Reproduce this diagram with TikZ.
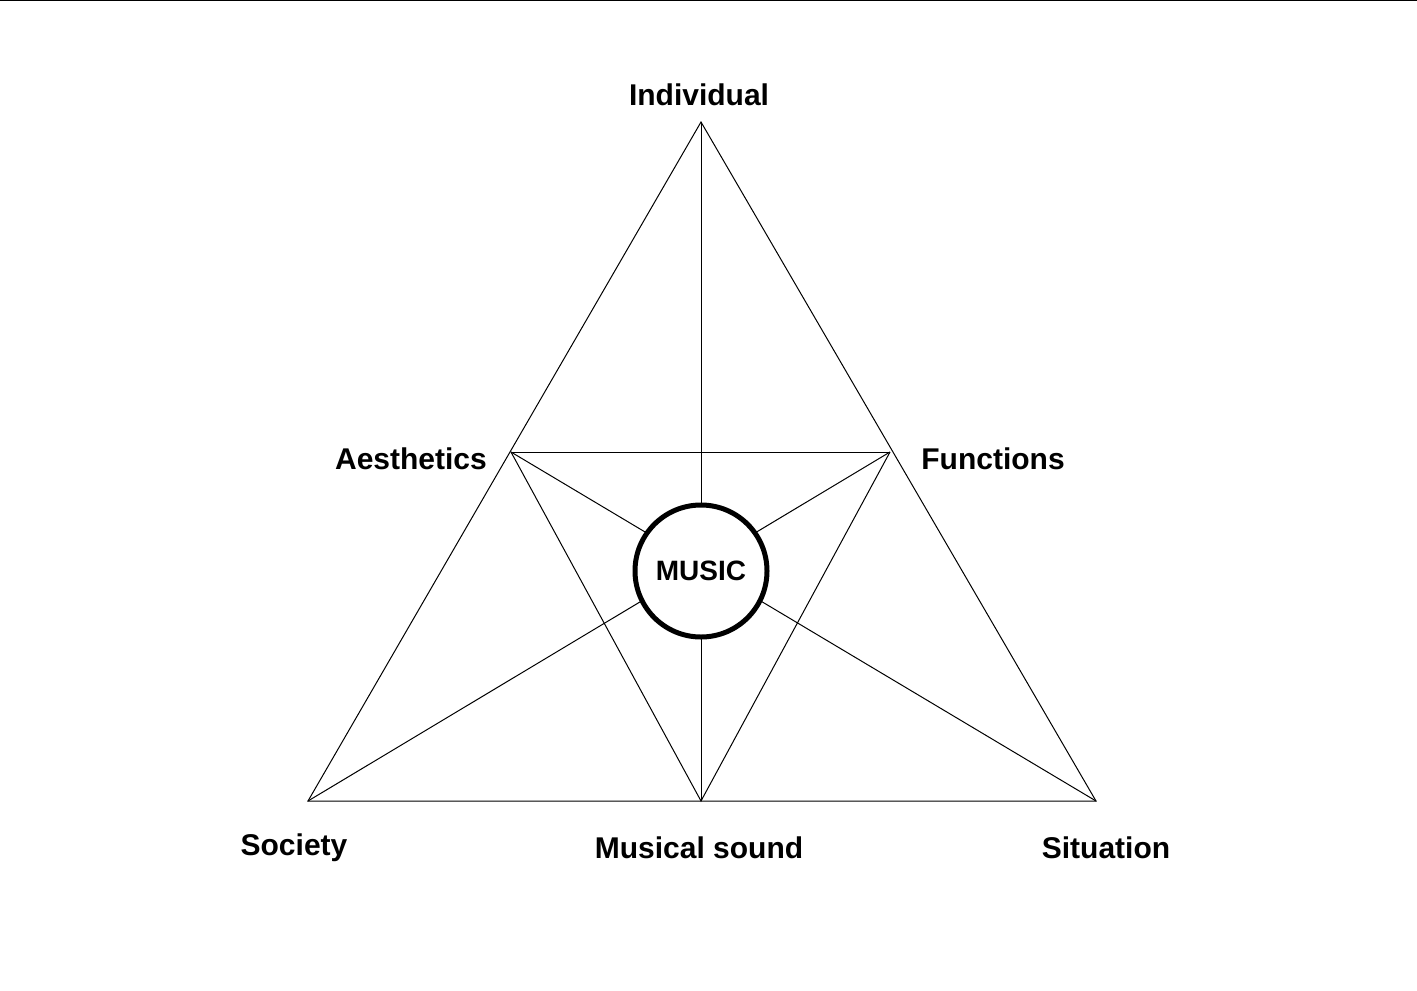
\documentclass[tikz,border=0pt]{standalone}
\usepackage{fontspec}
\setmainfont{Liberation Sans}
\begin{document}
\begin{tikzpicture}[x=1pt,y=-1pt,
  lbl/.style={font=\fontsize{30}{36}\selectfont\bfseries},
  ln/.style={line width=1pt}]
\useasboundingbox (0,0) rectangle (1417,991);
\draw[line width=1.5pt] (0,0.7) -- (1417,0.7);
\coordinate (I) at (701,122);
\coordinate (So) at (308,801);
\coordinate (Si) at (1096,801);
\coordinate (M) at (701,801);
\coordinate (A) at (511,452);
\coordinate (F) at (890,452);
\coordinate (C) at (701,571);
\draw[ln] (I) -- (So) -- (Si) -- cycle;
\draw[ln] (I) -- (M);
\draw[ln] (A) -- (F);
\draw[ln] (A) -- (M) -- (F);
\draw[ln] (A) -- (Si);
\draw[ln] (F) -- (So);
\node[circle, draw, line width=5pt, fill=white, minimum size=132pt, inner sep=0pt,
  font=\fontsize{28}{34}\selectfont\bfseries] (music) at (C) {MUSIC};
\node[lbl] (ni) at (699,95) {Individual};
\node[lbl] (na) at (411,459) {Aesthetics};
\node[lbl] (nf) at (993,459) {Functions};
\node[lbl] (ns) at (294,848) {Society};
\node[lbl] (nm) at (699,848) {Musical sound};
\node[lbl] (nsi) at (1106,848) {Situation};
\end{tikzpicture}
\end{document}
